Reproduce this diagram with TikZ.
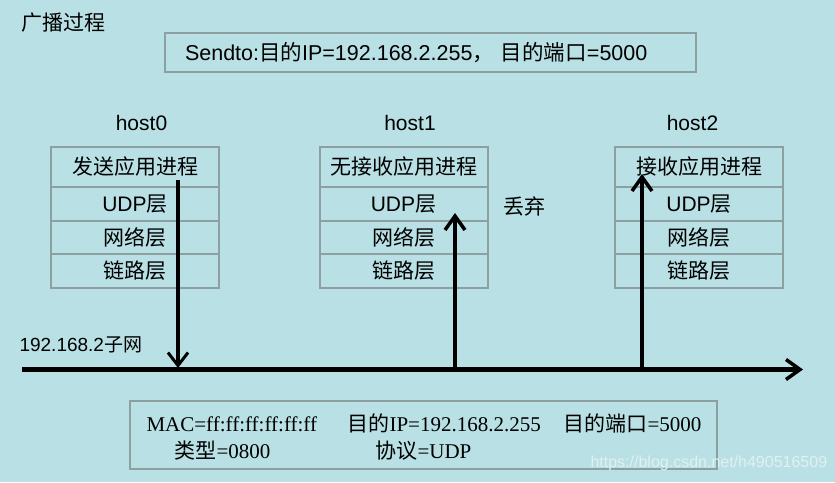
\documentclass[tikz,border=0pt]{standalone}
\usepackage{fontspec}
\setmainfont{Liberation Sans}
\newfontfamily\cjk{Noto Sans CJK SC}
\newfontfamily\tms{Liberation Serif}
\newcommand\zh[1]{{\cjk #1}}
\usetikzlibrary{arrows.meta}
\definecolor{bgblue}{RGB}{185,224,228}
\definecolor{boxgray}{RGB}{140,160,162}
\tikzset{
  layer/.style = {draw=boxgray, line width=2pt, minimum width=168pt, inner sep=0pt},
  big/.style = {font=\fontsize{21}{25}\selectfont},
  flow/.style = {line width=4.5pt, -{Straight Barb[length=14pt,width=20pt,line width=3.5pt]}}
}
\begin{document}
\begin{tikzpicture}[x=1pt, y=-1pt, big]

\fill[bgblue] (0,0) rectangle (835,482);
\useasboundingbox (0,0) rectangle (835,482);

\node (title) at (63,23) {\zh{广播过程}};
\node[layer, minimum height=39pt, text width=491pt, inner xsep=20pt, align=left] (sendto) at (430.5,52.5)
  {\fontsize{21.5}{25}\selectfont Sendto:\zh{目的}IP=192.168.2.255\zh{，} \zh{目的端口}=5000};

% host0
\node (host0) at (141.5,123) {host0};
\node[layer, minimum height=40pt] (h0app) at (135,167) {\zh{发送应用进程}};
\node[layer, minimum height=34pt] (h0udp) at (135,204) {UDP\zh{层}};
\node[layer, minimum height=33pt] (h0net) at (135,237.5) {\zh{网络层}};
\node[layer, minimum height=34pt] (h0link) at (135,271) {\zh{链路层}};

% host1
\node (host1) at (410,123) {host1};
\node[layer, minimum height=40pt] (h1app) at (403.5,167) {\zh{无接收应用进程}};
\node[layer, minimum height=34pt] (h1udp) at (403.5,204) {UDP\zh{层}};
\node[layer, minimum height=33pt] (h1net) at (403.5,237.5) {\zh{网络层}};
\node[layer, minimum height=34pt] (h1link) at (403.5,271) {\zh{链路层}};
\node (drop) at (524,206) {\zh{丢弃}};

% host2
\node (host2) at (692.5,123) {host2};
\node[layer, minimum height=40pt] (h2app) at (699,167) {\zh{接收应用进程}};
\node[layer, minimum height=34pt] (h2udp) at (699,204) {UDP\zh{层}};
\node[layer, minimum height=33pt] (h2net) at (699,237.5) {\zh{网络层}};
\node[layer, minimum height=34pt] (h2link) at (699,271) {\zh{链路层}};

% subnet
\node[anchor=west, font=\fontsize{19}{23}\selectfont] (subnet) at (16,345) {192.168.2\zh{子网}};
\coordinate (busL) at (22,369.5);
\coordinate (busR) at (803,369.5);
\coordinate (src0) at (178,180);
\coordinate (bus0) at (178,368);
\coordinate (bus1) at (455,369);
\coordinate (dst1) at (455,213);
\coordinate (bus2) at (642,369);
\coordinate (dst2) at (642,174);

\draw[flow] (busL) -- (busR);
\draw[line width=3.3pt, -{Straight Barb[length=13pt,width=20pt,line width=3pt]}] (src0) -- (bus0);
\draw[flow] (bus1) -- (dst1);
\draw[flow] (bus2) -- (dst2);

% frame
\node[layer, minimum width=587pt, minimum height=68pt] (frame) at (423.5,435) {};
\begin{scope}[every node/.style={anchor=base west, font=\tms\fontsize{21}{25}\selectfont}]
  \node (mac) at (143,431) {MAC=ff:ff:ff:ff:ff:ff};
  \node (dstip) at (344,431) {\zh{目的}IP=192.168.2.255};
  \node (dstport) at (560,431) {\zh{目的端口}=5000};
  \node (type) at (171,458) {\zh{类型}=0800};
  \node (proto) at (372,458) {\zh{协议}=UDP};
\end{scope}
\node[anchor=west, text=white!55!bgblue, font=\fontsize{16}{19}\selectfont] (mark) at (587,463) {https://blog.csdn.net/h490516509};

\end{tikzpicture}
\end{document}
